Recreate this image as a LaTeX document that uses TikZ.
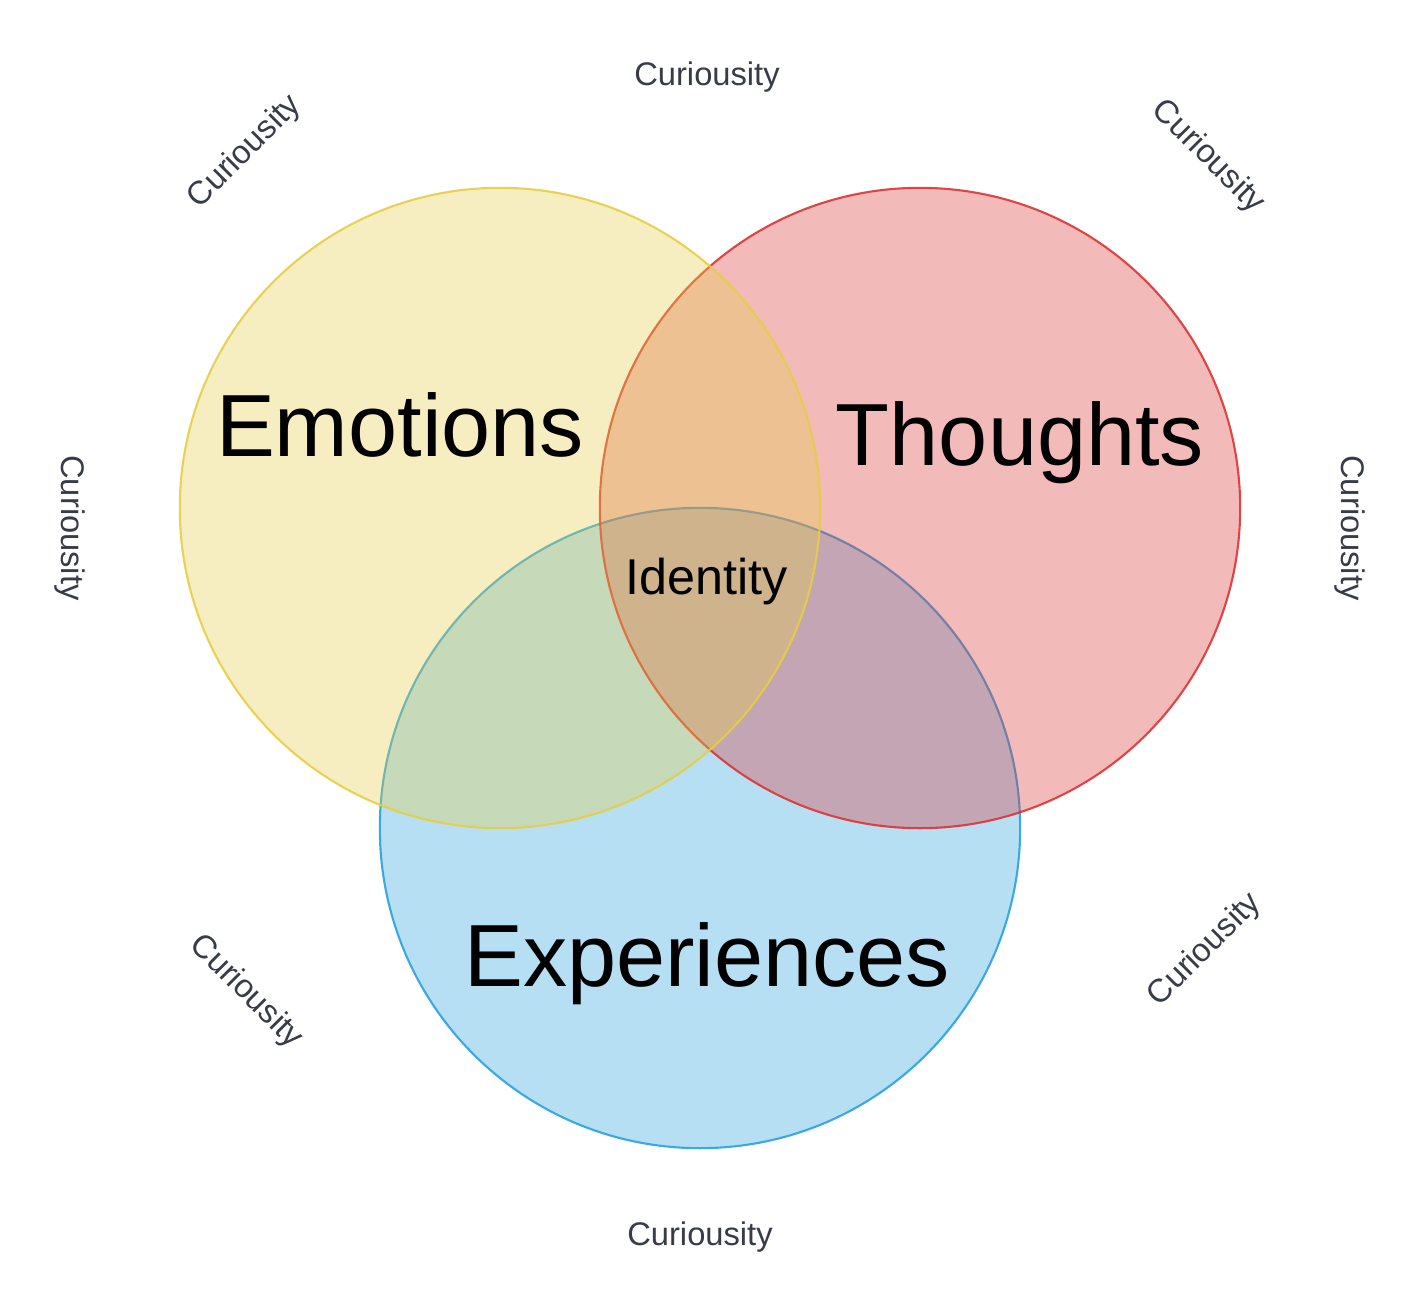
\documentclass[tikz,border=0pt]{standalone}
\usepackage{fontspec}
\setmainfont{Liberation Sans}
\usetikzlibrary{shapes.geometric}
\definecolor{emoyellow}{RGB}{229,206,69}
\definecolor{thored}{RGB}{221,52,52}
\definecolor{expblue}{RGB}{41,161,224}
\definecolor{curgray}{RGB}{55,60,72}
\tikzset{
  setcirc/.style = {
    circle, minimum size=6.4cm, inner sep=0pt,
    line width=0.6pt, fill opacity=0.34, draw opacity=0.9
  },
  bigword/.style = {
    anchor=base, inner sep=0pt, font=\fontsize{25.1}{28}\selectfont, text=black
  },
  midword/.style = {
    anchor=base, inner sep=0pt, font=\fontsize{14.3}{17}\selectfont, text=black
  },
  curio/.style = {
    inner sep=0pt, font=\fontsize{9.3}{11}\selectfont, text=curgray
  }
}

\begin{document}
\begin{tikzpicture}[x=0.01cm, y=-0.01cm]

    \useasboundingbox (0,0) rectangle (1420,1308);

    % ------------------------------------------------------------- Circles
    \node [setcirc, draw=expblue,    fill=expblue]    (exp_circ) at (700, 828) {};
    \node [setcirc, draw=thored,     fill=thored]     (tho_circ) at (920, 508) {};
    \node [setcirc, draw=emoyellow,  fill=emoyellow]  (emo_circ) at (500, 508) {};

    % -------------------------------------------------------------- Labels
    \node [bigword] (emotions)    at (400, 456) {Emotions};
    \node [bigword] (thoughts)    at (1020, 465) {Thoughts};
    \node [bigword] (experiences) at (707, 986) {Experiences};
    \node [midword] (identity)    at (707, 594) {Identity};

    % ---------------------------------------------------------- Curiousity
    \node [curio]              (cur_top)  at (707,   77) {Curiousity};
    \node [curio, rotate=45]   (cur_tl)   at (245,  152) {Curiousity};
    \node [curio, rotate=-45]  (cur_tr)   at (1208, 157) {Curiousity};
    \node [curio, rotate=-90]  (cur_l)    at (70,   528) {Curiousity};
    \node [curio, rotate=-90]  (cur_r)    at (1350, 528) {Curiousity};
    \node [curio, rotate=-45]  (cur_bl)   at (246,  992) {Curiousity};
    \node [curio, rotate=45]   (cur_br)   at (1205, 950) {Curiousity};
    \node [curio]              (cur_bot)  at (700, 1237) {Curiousity};

  \end{tikzpicture}
\end{document}
